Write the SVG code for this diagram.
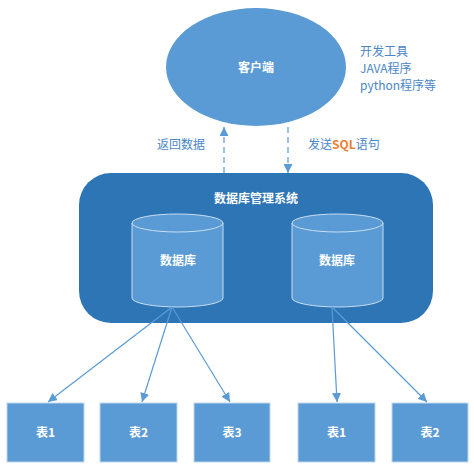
<svg xmlns="http://www.w3.org/2000/svg" width="474" height="466" viewBox="0 0 474 466">
<defs>
<style>
.w{font-family:"Noto Sans CJK SC","Liberation Sans",sans-serif;fill:#fff;text-anchor:middle;font-size:12px;font-weight:bold}
.b{font-family:"Noto Sans CJK SC","Liberation Sans",sans-serif;fill:#4a86c8;font-size:12px}
.tbl{fill:#5b9bd5;stroke:#bdd7ee;stroke-width:1}
.cyl{fill:#5b9bd5;stroke:#c9def2;stroke-width:1}
.ln{stroke:#5b9bd5;stroke-width:1.2;fill:none}
</style>
<marker id="ah" viewBox="0 0 10 10" refX="10" refY="5" markerWidth="9" markerHeight="9" markerUnits="userSpaceOnUse" orient="auto"><path d="M0,0 L10,5 L0,10 z" fill="#5b9bd5"/></marker>
</defs>
<rect width="474" height="466" fill="#fff"/>
<g id="client">
<ellipse cx="256" cy="67" rx="90" ry="59" fill="#5b9bd5"/>
<text class="w" x="256" y="72" font-size="13">客户端</text>
</g>
<g id="client-note">
<text class="b" x="360" y="56">开发工具</text>
<text class="b" x="360" y="73">JAVA程序</text>
<text class="b" x="360" y="90">python程序等</text>
</g>
<g id="dbms">
<rect x="79" y="173" width="354" height="150" rx="32" fill="#2e75b6"/>
<text class="w" x="256" y="203" font-size="13">数据库管理系统</text>
</g>
<g id="db1">
<path class="cyl" d="M132,223 L132,298 A45.5,9 0 0 0 223,298 L223,223"/>
<ellipse class="cyl" cx="177.5" cy="223" rx="45.5" ry="9"/>
<text class="w" x="178" y="265" font-size="13">数据库</text>
</g>
<g id="db2">
<path class="cyl" d="M292,223 L292,298 A45.5,9 0 0 0 383,298 L383,223"/>
<ellipse class="cyl" cx="337.5" cy="223" rx="45.5" ry="9"/>
<text class="w" x="337" y="265" font-size="13">数据库</text>
</g>
<g id="t1"><rect class="tbl" x="7" y="403" width="77" height="59"/><text class="w" x="45.5" y="437">表1</text></g>
<g id="t2"><rect class="tbl" x="100" y="403" width="77" height="59"/><text class="w" x="138.5" y="437">表2</text></g>
<g id="t3"><rect class="tbl" x="194" y="403" width="76" height="59"/><text class="w" x="232" y="437">表3</text></g>
<g id="t4"><rect class="tbl" x="298" y="403" width="77" height="59"/><text class="w" x="336.5" y="437">表1</text></g>
<g id="t5"><rect class="tbl" x="392" y="403" width="76" height="59"/><text class="w" x="430" y="437">表2</text></g>
<g id="connectors">
<line class="ln" x1="224" y1="173" x2="224" y2="127" stroke-dasharray="6,4" marker-end="url(#ah)"/>
<line class="ln" x1="288" y1="127" x2="288" y2="173" stroke-dasharray="6,4" marker-end="url(#ah)"/>
<text class="b" x="157" y="149">返回数据</text>
<text class="b" x="308" y="149">发送<tspan fill="#ed7d31" font-weight="bold">SQL</tspan>语句</text>
<line class="ln" x1="172" y1="307" x2="48" y2="402" marker-end="url(#ah)"/>
<line class="ln" x1="172" y1="307" x2="142" y2="402" marker-end="url(#ah)"/>
<line class="ln" x1="172" y1="307" x2="230" y2="402" marker-end="url(#ah)"/>
<line class="ln" x1="332" y1="307" x2="337" y2="402" marker-end="url(#ah)"/>
<line class="ln" x1="332" y1="307" x2="427" y2="402" marker-end="url(#ah)"/>
</g>
</svg>
